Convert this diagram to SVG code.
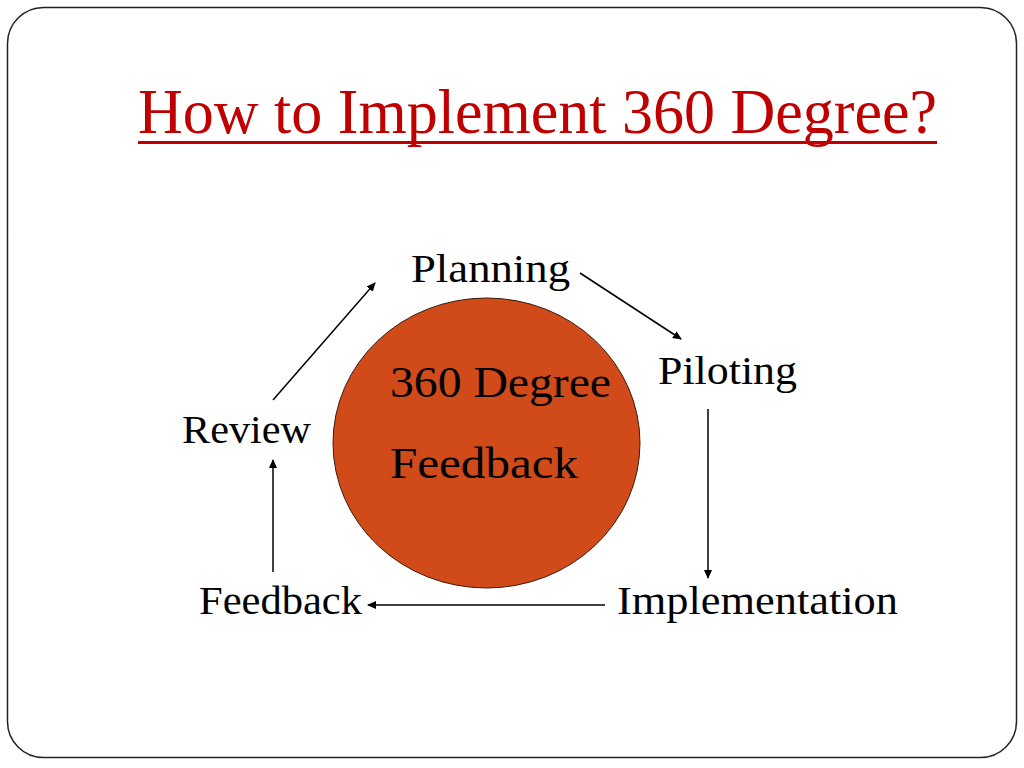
<svg xmlns="http://www.w3.org/2000/svg" width="1024" height="768" viewBox="0 0 1024 768">
<defs>
<style>
.lbl{font-family:"Liberation Serif","Times New Roman",serif;font-size:41px;fill:#000}
.ctr{font-family:"Liberation Serif","Times New Roman",serif;font-size:45px;fill:#000}
.title{font-family:"Liberation Serif","Times New Roman",serif;font-size:63px;fill:#C00000}
.conn{stroke:#000;stroke-width:1.5;fill:none;marker-end:url(#ah)}
</style>
<marker id="ah" markerWidth="10" markerHeight="10" refX="8" refY="4" orient="auto" markerUnits="userSpaceOnUse">
<path d="M0,0 L9,4 L0,8 Z" fill="#000"/>
</marker>
</defs>
<rect x="0" y="0" width="1024" height="768" fill="#fff"/>
<rect x="7.5" y="7.5" width="1009" height="750" rx="36" ry="36" fill="#fff" stroke="#222" stroke-width="1.5"/>
<g id="title">
<text class="title" x="138" y="133" textLength="799" lengthAdjust="spacingAndGlyphs">How to Implement 360 Degree?</text>
<rect x="138" y="141" width="799" height="3" fill="#C00000"/>
</g>
<g id="center">
<ellipse cx="486.5" cy="443" rx="153.5" ry="145" fill="#D04A1A" stroke="#3a1a0a" stroke-width="1"/>
<text class="ctr" x="390" y="397" textLength="221" lengthAdjust="spacingAndGlyphs">360 Degree</text>
<text class="ctr" x="390" y="478" textLength="188" lengthAdjust="spacingAndGlyphs">Feedback</text>
</g>
<g id="planning"><text class="lbl" x="411" y="282" textLength="159" lengthAdjust="spacingAndGlyphs">Planning</text></g>
<g id="piloting"><text class="lbl" x="658" y="384" textLength="139" lengthAdjust="spacingAndGlyphs">Piloting</text></g>
<g id="implementation"><text class="lbl" x="617" y="614" textLength="281" lengthAdjust="spacingAndGlyphs">Implementation</text></g>
<g id="feedback"><text class="lbl" x="199" y="614" textLength="163" lengthAdjust="spacingAndGlyphs">Feedback</text></g>
<g id="review"><text class="lbl" x="182" y="443" textLength="129" lengthAdjust="spacingAndGlyphs">Review</text></g>
<g id="connectors">
<line class="conn" x1="273" y1="400" x2="375" y2="283"/>
<line class="conn" x1="580" y1="273" x2="681" y2="339"/>
<line class="conn" x1="708" y1="409" x2="708" y2="578"/>
<line class="conn" x1="605" y1="605" x2="368" y2="605"/>
<line class="conn" x1="273" y1="572" x2="273" y2="460"/>
</g>
</svg>
